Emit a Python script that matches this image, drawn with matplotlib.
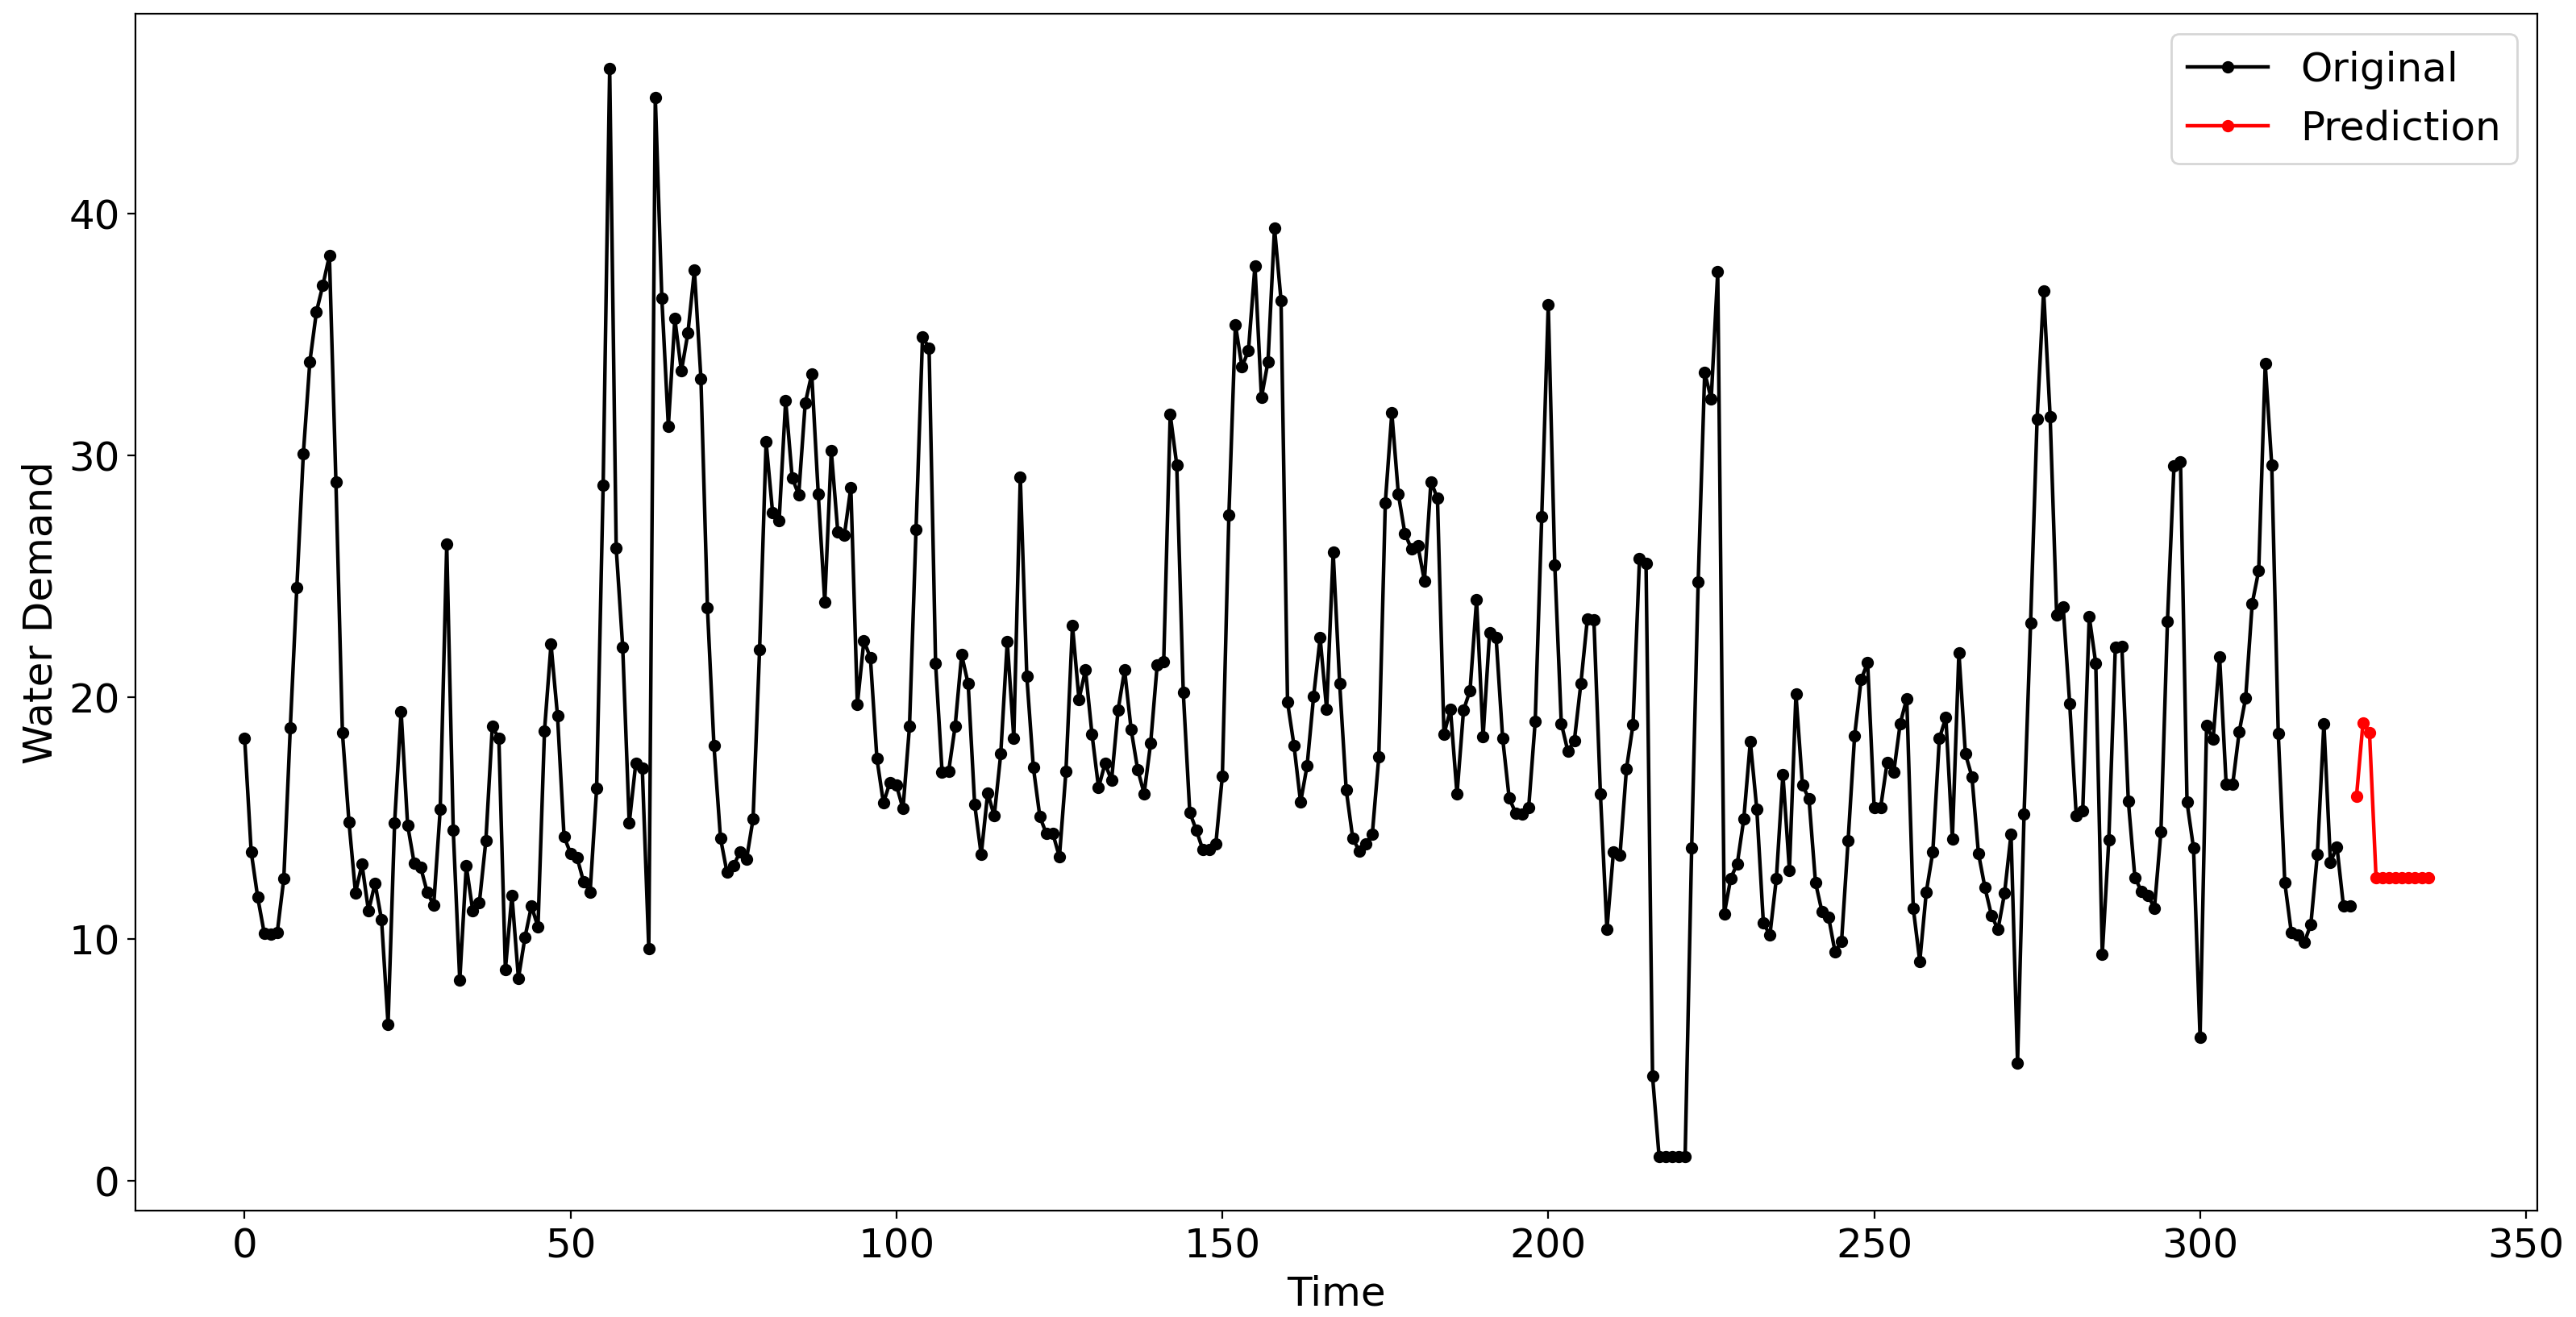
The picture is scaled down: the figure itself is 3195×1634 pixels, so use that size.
import numpy as np
import matplotlib
matplotlib.use('Agg')
import matplotlib.pyplot as plt

# valores (serie original, t = 0..323)
original = [
    18.27, 13.59, 11.71, 10.23, 10.20, 10.26, 12.47, 18.72, 24.52, 30.05,
    33.86, 35.91, 37.03, 38.24, 28.87, 18.51, 14.83, 11.90, 13.07, 11.14,
    12.29, 10.78, 6.46, 14.77, 19.39, 14.70, 13.13, 12.95, 11.93, 11.38,
    15.34, 26.31, 14.49, 8.27, 13.01, 11.14, 11.47, 14.04, 18.78, 18.27,
    8.72, 11.80, 8.36, 10.05, 11.35, 10.48, 18.60, 22.17, 19.21, 14.22,
    13.53, 13.35, 12.35, 11.93, 16.22, 28.75, 46.00, 26.16, 22.05, 14.77,
    17.24, 17.06, 9.57, 44.80, 36.49, 31.20, 35.64, 33.47, 35.04, 37.64,
    33.16, 23.68, 17.97, 14.16, 12.74, 13.01, 13.59, 13.29, 14.95, 21.96,
    30.54, 27.61, 27.30, 32.26, 29.06, 28.36, 32.14, 33.35, 28.39, 23.92,
    30.17, 26.82, 26.67, 28.66, 19.69, 22.32, 21.62, 17.45, 15.61, 16.46,
    16.34, 15.37, 18.78, 26.91, 34.89, 34.43, 21.38, 16.88, 16.91, 18.78,
    21.74, 20.54, 15.55, 13.47, 16.03, 15.07, 17.64, 22.29, 18.30, 29.09,
    20.84, 17.09, 15.04, 14.34, 14.34, 13.38, 16.91, 22.95, 19.90, 21.11,
    18.45, 16.25, 17.24, 16.55, 19.45, 21.11, 18.66, 17.00, 16.00, 18.09,
    21.32, 21.44, 31.68, 29.60, 20.20, 15.22, 14.49, 13.68, 13.68, 13.92,
    16.73, 27.51, 35.40, 33.65, 34.31, 37.82, 32.38, 33.86, 39.39, 36.40,
    19.78, 17.97, 15.64, 17.15, 20.02, 22.44, 19.48, 25.97, 20.54, 16.16,
    14.16, 13.62, 13.92, 14.31, 17.51, 28.03, 31.74, 28.39, 26.76, 26.12,
    26.25, 24.80, 28.90, 28.21, 18.45, 19.48, 15.97, 19.45, 20.26, 24.01,
    18.36, 22.65, 22.44, 18.30, 15.82, 15.19, 15.16, 15.43, 19.00, 27.45,
    36.22, 25.46, 18.90, 17.76, 18.18, 20.54, 23.22, 23.19, 16.00, 10.38,
    13.59, 13.44, 17.03, 18.84, 25.73, 25.52, 4.31, 1.00, 1.00, 1.00,
    1.00, 1.00, 13.74, 24.74, 33.41, 32.32, 37.58, 11.02, 12.50, 13.10,
    14.95, 18.15, 15.34, 10.66, 10.14, 12.50, 16.79, 12.83, 20.11, 16.34,
    15.79, 12.32, 11.11, 10.90, 9.45, 9.90, 14.04, 18.39, 20.72, 21.41,
    15.43, 15.43, 17.30, 16.88, 18.90, 19.93, 11.26, 9.06, 11.93, 13.59,
    18.27, 19.15, 14.13, 21.83, 17.64, 16.70, 13.53, 12.11, 10.96, 10.38,
    11.87, 14.31, 4.86, 15.16, 23.04, 31.50, 36.79, 31.59, 23.38, 23.71,
    19.72, 15.10, 15.28, 23.32, 21.38, 9.36, 14.07, 22.05, 22.08, 15.67,
    12.53, 11.96, 11.80, 11.26, 14.43, 23.13, 29.54, 29.72, 15.64, 13.74,
    5.91, 18.81, 18.24, 21.65, 16.40, 16.37, 18.54, 19.96, 23.86, 25.22,
    33.77, 29.57, 18.48, 12.32, 10.26, 10.14, 9.84, 10.60, 13.50, 18.90,
    13.16, 13.80, 11.35, 11.35,
]

# previsao (t = 324..335)
previsao = [15.88, 18.93, 18.51, 12.53, 12.53, 12.53, 12.53, 12.53, 12.53,
            12.53, 12.53, 12.53]

t_original = np.arange(len(original))
t_previsao = np.arange(len(original), len(original) + len(previsao))

fig, ax = plt.subplots(figsize=(15.975, 8.1745), dpi=200)
fig.subplots_adjust(left=0.0526, right=0.985, top=0.989, bottom=0.0807)

ax.plot(t_original, original, color='k', marker='o', markersize=4.5,
        linewidth=1.6, label='Original')
ax.plot(t_previsao, previsao, color='r', marker='o', markersize=4.5,
        linewidth=1.6, label='Prediction')

ax.set_xlabel('Time', fontsize=18)
ax.set_ylabel('Water Demand', fontsize=18)
ax.tick_params(labelsize=18)
ax.set_xticks([0, 50, 100, 150, 200, 250, 300, 350])
ax.set_yticks([0, 10, 20, 30, 40])

ax.legend(loc='upper right', fontsize=18)

plt.savefig('out.png', dpi=200)
